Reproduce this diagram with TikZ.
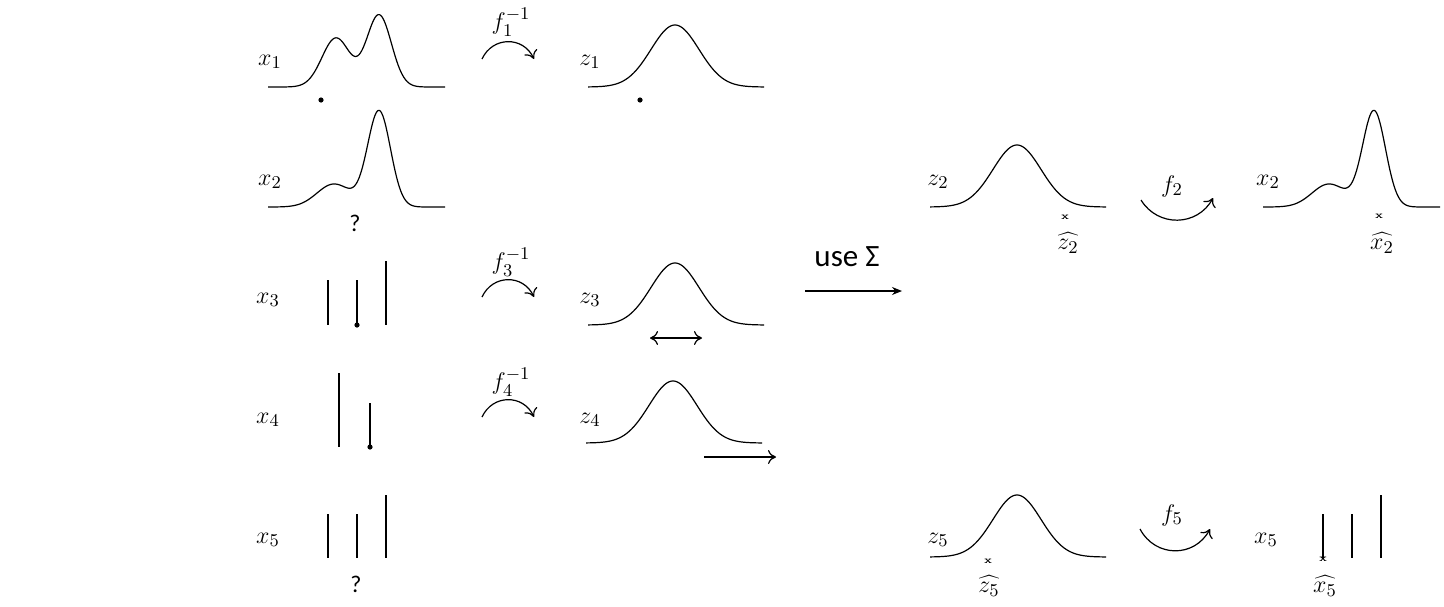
\documentclass[tikz,border=0pt]{standalone}
\usepackage{fontspec}
\newfontfamily\calfont{Carlito}
\usetikzlibrary{arrows.meta}
\tikzset{
  curve/.style={line width=0.6pt, line join=round},
  bar/.style={line width=0.6pt},
  lbl/.style={font=\fontsize{12.5}{14}\selectfont, inner sep=0pt},
  fmap/.style={-{To[length=4pt,width=7pt]}, line width=0.6pt},
  dotm/.style={circle, fill, inner sep=0pt, minimum size=2.6pt},
  xmark/.style={font=\fontsize{5}{5}\selectfont\bfseries, inner sep=0pt},
  qmark/.style={font=\calfont\fontsize{12}{14}\selectfont, inner sep=0pt},
  hatlbl/.style={font=\fontsize{12.5}{14}\selectfont, inner sep=0pt},
}
\newcommand\gcurve[2]{\draw[curve] plot[domain=0:176, samples=140, smooth] ({#1+\x},{-(#2) + 62*exp(-((\x-87)/24)^2/2)});}
\newcommand\xonecurve[2]{\draw[curve] plot[domain=0:177, samples=160, smooth] ({#1+\x},{-(#2) + 49*exp(-((\x-68)/14)^2/2) + 72*exp(-((\x-111)/12.4)^2/2)});}
\newcommand\xtwocurve[2]{\draw[curve] plot[domain=0:177, samples=160, smooth] ({#1+\x},{-(#2) + 23*exp(-((\x-66)/17)^2/2) + 96*exp(-((\x-111)/11.5)^2/2)});}
\begin{document}
\begin{tikzpicture}[x=0.5pt,y=0.5pt]
\useasboundingbox (0,0) rectangle (1444,-606);
% ---------- row 1 ----------
\node[lbl] (lx1) at (270,-62) {$x_1$};
\xonecurve{268}{87}
\node[dotm] (dx1) at (321,-100) {};
\node[lbl] (f1) at (511,-22) {$f_1^{-1}$};
\coordinate (f1a) at (482,-59);
\coordinate (f1b) at (534,-59);
\draw[fmap] (f1a) to[bend left=65, looseness=1.25] (f1b);
\node[lbl] (lz1) at (590,-62) {$z_1$};
\gcurve{588}{87}
\node[dotm] (dz1) at (640,-100) {};
% ---------- row 2 ----------
\node[lbl] (lx2) at (270,-182) {$x_2$};
\xtwocurve{268}{207}
\node[qmark] (q2) at (355,-223) {?};
% ---------- row 3 ----------
\node[lbl] (lx3) at (268,-300) {$x_3$};
\coordinate (b31t) at (328,-280); \coordinate (b31b) at (328,-325);
\coordinate (b32t) at (357,-280); \node[dotm] (b32b) at (357,-325) {};
\coordinate (b33t) at (386,-261); \coordinate (b33b) at (386,-325);
\draw[bar] (b31t) -- (b31b);
\draw[bar] (b32t) -- (b32b.center);
\draw[bar] (b33t) -- (b33b);
\node[lbl] (f3) at (511,-262) {$f_3^{-1}$};
\coordinate (f3a) at (482,-297);
\coordinate (f3b) at (534,-297);
\draw[fmap] (f3a) to[bend left=65, looseness=1.25] (f3b);
\node[lbl] (lz3) at (590,-300) {$z_3$};
\gcurve{588}{325}
\coordinate (d3a) at (650,-338);
\coordinate (d3b) at (702,-338);
\draw[{To[length=4pt,width=7pt]}-{To[length=4pt,width=7pt]}, line width=0.6pt] (d3a) -- (d3b);
% ---------- row 4 ----------
\node[lbl] (lx4) at (268,-420) {$x_4$};
\coordinate (b41t) at (339,-373); \coordinate (b41b) at (339,-447);
\coordinate (b42t) at (370,-403); \node[dotm] (b42b) at (370,-447) {};
\draw[bar] (b41t) -- (b41b);
\draw[bar] (b42t) -- (b42b.center);
\node[lbl] (f4) at (511,-382) {$f_4^{-1}$};
\coordinate (f4a) at (482,-417);
\coordinate (f4b) at (534,-417);
\draw[fmap] (f4a) to[bend left=65, looseness=1.25] (f4b);
\node[lbl] (lz4) at (590,-420) {$z_4$};
\gcurve{586}{443}
\coordinate (s4a) at (704,-457);
\coordinate (s4b) at (776,-457);
\draw[fmap] (s4a) -- (s4b);
% ---------- row 5 ----------
\node[lbl] (lx5) at (268,-540) {$x_5$};
\coordinate (b51t) at (328,-514); \coordinate (b51b) at (328,-558);
\coordinate (b52t) at (357,-514); \coordinate (b52b) at (357,-558);
\coordinate (b53t) at (386,-495); \coordinate (b53b) at (386,-558);
\draw[bar] (b51t) -- (b51b);
\draw[bar] (b52t) -- (b52b);
\draw[bar] (b53t) -- (b53b);
\node[qmark] (q5) at (356,-584) {?};
% ---------- use Sigma ----------
\node[font=\calfont\fontsize{15.5}{18}\selectfont, inner sep=0pt] (use) at (847,-257) {use Σ};
\coordinate (ua) at (805,-291);
\coordinate (ub) at (902,-291);
\draw[-{Stealth[length=5pt,width=4pt]}, line width=0.6pt] (ua) -- (ub);
% ---------- right row 2 ----------
\node[lbl] (rz2) at (938,-182) {$z_2$};
\gcurve{930}{207}
\node[xmark] (xz2) at (1065,-217) {x};
\node[hatlbl] (hz2) at (1068,-243) {$\widehat{z_2}$};
\node[lbl] (f2) at (1172,-186) {$f_2$};
\coordinate (f2a) at (1141,-200);
\coordinate (f2b) at (1213,-198);
\draw[fmap] (f2a) to[bend right=60, looseness=1.15] (f2b);
\node[lbl] (rx2) at (1268,-182) {$x_2$};
\xtwocurve{1263}{207}
\node[xmark] (xx2) at (1379,-216) {x};
\node[hatlbl] (hx2) at (1382,-243) {$\widehat{x_2}$};
% ---------- right row 5 ----------
\node[lbl] (rz5) at (938,-540) {$z_5$};
\gcurve{930}{557}
\node[xmark] (xz5) at (988,-561) {x};
\node[hatlbl] (hz5) at (989,-586) {$\widehat{z_5}$};
\node[lbl] (f5) at (1172,-515) {$f_5$};
\coordinate (f5a) at (1140,-529);
\coordinate (f5b) at (1210,-529);
\draw[fmap] (f5a) to[bend right=62, looseness=1.2] (f5b);
\node[lbl] (rx5) at (1266,-540) {$x_5$};
\coordinate (r51t) at (1323,-514); \node[xmark] (r51b) at (1323,-559) {x};
\coordinate (r52t) at (1352,-514); \coordinate (r52b) at (1352,-558);
\coordinate (r53t) at (1381,-495); \coordinate (r53b) at (1381,-558);
\draw[bar] (r51t) -- (r51b.center);
\draw[bar] (r52t) -- (r52b);
\draw[bar] (r53t) -- (r53b);
\node[hatlbl] (hx5) at (1325,-586) {$\widehat{x_5}$};
\end{tikzpicture}
\end{document}
